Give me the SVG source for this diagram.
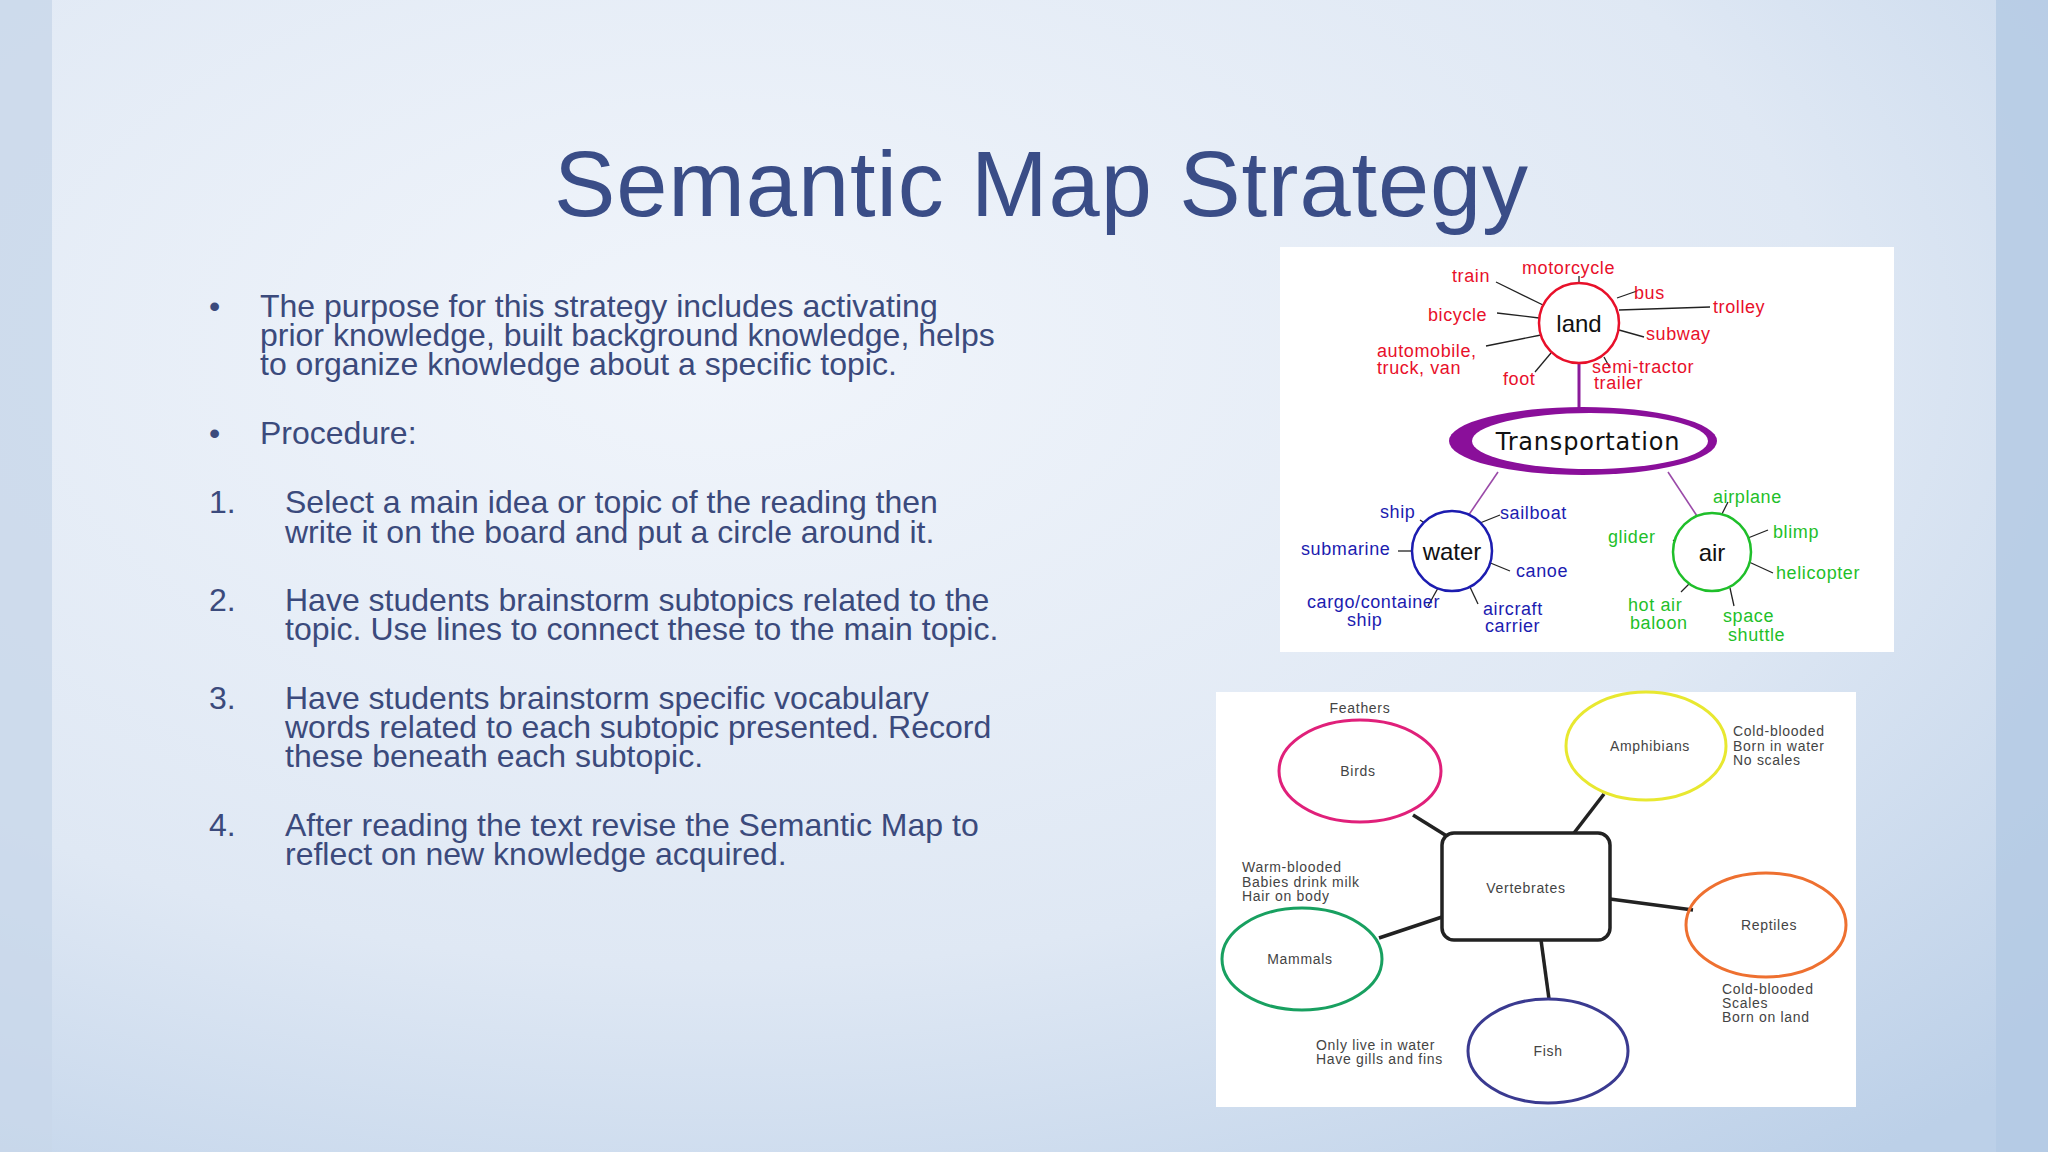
<svg xmlns="http://www.w3.org/2000/svg" width="2048" height="1152" viewBox="0 0 2048 1152">
<defs>
<radialGradient id="bg" cx="0.35" cy="0.3" r="0.9">
<stop offset="0" stop-color="#f1f5fb"/><stop offset="0.6" stop-color="#dfe8f4"/><stop offset="1" stop-color="#bcd0e8"/>
</radialGradient>
<style>
.body{font-family:"Liberation Sans",Arial,sans-serif;font-size:32px;fill:#3b4a7c}
.r{font-family:"Liberation Sans",Arial,sans-serif;font-size:18px;fill:#e8102a;letter-spacing:0.6px}
.b{font-family:"Liberation Sans",Arial,sans-serif;font-size:18px;fill:#1c1cb0;letter-spacing:0.6px}
.g{font-family:"Liberation Sans",Arial,sans-serif;font-size:18px;fill:#1fbf2a;letter-spacing:0.6px}
.hub{font-family:"Liberation Sans",Arial,sans-serif;font-size:24px;fill:#111;text-anchor:middle}
.sp{stroke:#222;stroke-width:1.3}
.vt{font-family:"Liberation Sans",Arial,sans-serif;font-size:14px;fill:#444;letter-spacing:0.7px}
.vc{stroke:#222;stroke-width:3.5}
</style>
</defs>
<rect width="2048" height="1152" fill="url(#bg)"/>
<rect width="52" height="1152" fill="#c8d7ea" opacity="0.8"/>
<rect x="1996" width="52" height="1152" fill="#b3c9e4" opacity="0.8"/>
<text x="1041" y="216" font-family="Liberation Sans,Arial,sans-serif" font-size="92" fill="#3a4d87" text-anchor="middle" textLength="974">Semantic Map Strategy</text>
<g id="text">
<text class="body" x="209" y="317">•</text>
<text class="body" x="260" y="317">The purpose for this strategy includes activating</text>
<text class="body" x="260" y="346">prior knowledge, built background knowledge, helps</text>
<text class="body" x="260" y="375">to organize knowledge about a specific topic.</text>
<text class="body" x="209" y="444">•</text>
<text class="body" x="260" y="444">Procedure:</text>
<text class="body" x="209" y="513">1.</text>
<text class="body" x="285" y="513">Select a main idea or topic of the reading then</text>
<text class="body" x="285" y="543">write it on the board and put a circle around it.</text>
<text class="body" x="209" y="611">2.</text>
<text class="body" x="285" y="611">Have students brainstorm subtopics related to the</text>
<text class="body" x="285" y="640">topic. Use lines to connect these to the main topic.</text>
<text class="body" x="209" y="709">3.</text>
<text class="body" x="285" y="709">Have students brainstorm specific vocabulary</text>
<text class="body" x="285" y="738">words related to each subtopic presented. Record</text>
<text class="body" x="285" y="767">these beneath each subtopic.</text>
<text class="body" x="209" y="836">4.</text>
<text class="body" x="285" y="836">After reading the text revise the Semantic Map to</text>
<text class="body" x="285" y="865">reflect on new knowledge acquired.</text>
</g>
<rect x="1280" y="247" width="614" height="405" fill="#fff"/>
<rect x="1216" y="692" width="640" height="415" fill="#fff"/>
<g id="connectors">
<g class="sp">
<line x1="1496" y1="282" x2="1543" y2="305"/><line x1="1579" y1="276" x2="1579" y2="283"/>
<line x1="1617" y1="298" x2="1637" y2="291"/><line x1="1619" y1="310" x2="1710" y2="307"/>
<line x1="1497" y1="313" x2="1539" y2="318"/><line x1="1619" y1="330" x2="1644" y2="337"/>
<line x1="1486" y1="346" x2="1541" y2="335"/><line x1="1535" y1="372" x2="1551" y2="353"/>
<line x1="1604" y1="357" x2="1610" y2="368"/>
<line x1="1420" y1="520" x2="1432" y2="528"/><line x1="1480" y1="523" x2="1500" y2="515"/>
<line x1="1398" y1="551" x2="1412" y2="551"/><line x1="1488" y1="562" x2="1510" y2="571"/>
<line x1="1438" y1="588" x2="1428" y2="606"/><line x1="1470" y1="587" x2="1478" y2="604"/>
<line x1="1722" y1="514" x2="1728" y2="502"/><line x1="1673" y1="540" x2="1681" y2="546"/>
<line x1="1748" y1="538" x2="1768" y2="530"/><line x1="1749" y1="562" x2="1773" y2="573"/>
<line x1="1681" y1="592" x2="1693" y2="580"/><line x1="1730" y1="588" x2="1734" y2="606"/>
</g>
<line x1="1579" y1="363" x2="1579" y2="408" stroke="#8a1a9a" stroke-width="3"/>
<line x1="1498" y1="472" x2="1468" y2="516" stroke="#9a4aa8" stroke-width="1.6"/>
<line x1="1668" y1="472" x2="1697" y2="516" stroke="#9a4aa8" stroke-width="1.6"/>
<g class="vc">
<line x1="1413" y1="815" x2="1450" y2="838"/><line x1="1604" y1="794" x2="1574" y2="833"/>
<line x1="1610" y1="899" x2="1693" y2="910"/><line x1="1442" y1="917" x2="1379" y2="938"/>
<line x1="1541" y1="940" x2="1549" y2="999"/>
</g>
</g>
<g id="land"><circle cx="1579" cy="323" r="40" fill="#fff" stroke="#e8102a" stroke-width="2.5"/><text class="hub" x="1579" y="332">land</text></g>
<g id="transportation"><ellipse cx="1583" cy="441" rx="134" ry="34" fill="#8a0f9a"/><ellipse cx="1590" cy="441" rx="118" ry="28" fill="#fff"/><text x="1588" y="450" font-family="DejaVu Sans,sans-serif" font-size="24" text-anchor="middle" fill="#111" letter-spacing="0.8">Transportation</text></g>
<g id="water"><circle cx="1452" cy="551" r="40" fill="#fff" stroke="#1c1cb0" stroke-width="2.5"/><text class="hub" x="1452" y="560">water</text></g>
<g id="air"><circle cx="1712" cy="552" r="39" fill="#fff" stroke="#1fbf2a" stroke-width="2.5"/><text class="hub" x="1712" y="561">air</text></g>
<g id="labels">
<text class="r" x="1452" y="282">train</text><text class="r" x="1522" y="274">motorcycle</text>
<text class="r" x="1634" y="299">bus</text><text class="r" x="1713" y="313">trolley</text>
<text class="r" x="1428" y="321">bicycle</text><text class="r" x="1646" y="340">subway</text>
<text class="r" x="1377" y="357">automobile,</text><text class="r" x="1377" y="374">truck, van</text>
<text class="r" x="1503" y="385">foot</text><text class="r" x="1592" y="373">semi-tractor</text><text class="r" x="1594" y="389">trailer</text>
<text class="b" x="1380" y="518">ship</text><text class="b" x="1500" y="519">sailboat</text>
<text class="b" x="1301" y="555">submarine</text><text class="b" x="1516" y="577">canoe</text>
<text class="b" x="1307" y="608">cargo/container</text><text class="b" x="1347" y="626">ship</text>
<text class="b" x="1483" y="615">aircraft</text><text class="b" x="1485" y="632">carrier</text>
<text class="g" x="1713" y="503">airplane</text><text class="g" x="1608" y="543">glider</text>
<text class="g" x="1773" y="538">blimp</text><text class="g" x="1776" y="579">helicopter</text>
<text class="g" x="1628" y="611">hot air</text><text class="g" x="1630" y="629">baloon</text>
<text class="g" x="1723" y="622">space</text><text class="g" x="1728" y="641">shuttle</text>
</g>
<g id="vertebrates"><rect x="1442" y="833" width="168" height="107" rx="12" fill="#fff" stroke="#222" stroke-width="3.5"/><text class="vt" x="1526" y="893" text-anchor="middle">Vertebrates</text></g>
<g id="birds"><ellipse cx="1360" cy="771" rx="81" ry="51" fill="none" stroke="#e0207a" stroke-width="3"/><text class="vt" x="1358" y="776" text-anchor="middle">Birds</text></g>
<g id="amphibians"><ellipse cx="1646" cy="746" rx="80" ry="54" fill="none" stroke="#e8e830" stroke-width="3"/><text class="vt" x="1650" y="751" text-anchor="middle">Amphibians</text></g>
<g id="reptiles"><ellipse cx="1766" cy="925" rx="80" ry="52" fill="none" stroke="#ee7030" stroke-width="3"/><text class="vt" x="1769" y="930" text-anchor="middle">Reptiles</text></g>
<g id="mammals"><ellipse cx="1302" cy="959" rx="80" ry="51" fill="none" stroke="#18a060" stroke-width="3"/><text class="vt" x="1300" y="964" text-anchor="middle">Mammals</text></g>
<g id="fish"><ellipse cx="1548" cy="1051" rx="80" ry="52" fill="none" stroke="#3a3a90" stroke-width="3"/><text class="vt" x="1548" y="1056" text-anchor="middle">Fish</text></g>
<g id="notes">
<text class="vt" x="1360" y="713" text-anchor="middle">Feathers</text>
<text class="vt" x="1733" y="736">Cold-blooded</text><text class="vt" x="1733" y="751">Born in water</text><text class="vt" x="1733" y="765">No scales</text>
<text class="vt" x="1242" y="872">Warm-blooded</text><text class="vt" x="1242" y="887">Babies drink milk</text><text class="vt" x="1242" y="901">Hair on body</text>
<text class="vt" x="1722" y="994">Cold-blooded</text><text class="vt" x="1722" y="1008">Scales</text><text class="vt" x="1722" y="1022">Born on land</text>
<text class="vt" x="1316" y="1050">Only live in water</text><text class="vt" x="1316" y="1064">Have gills and fins</text>
</g>
</svg>
